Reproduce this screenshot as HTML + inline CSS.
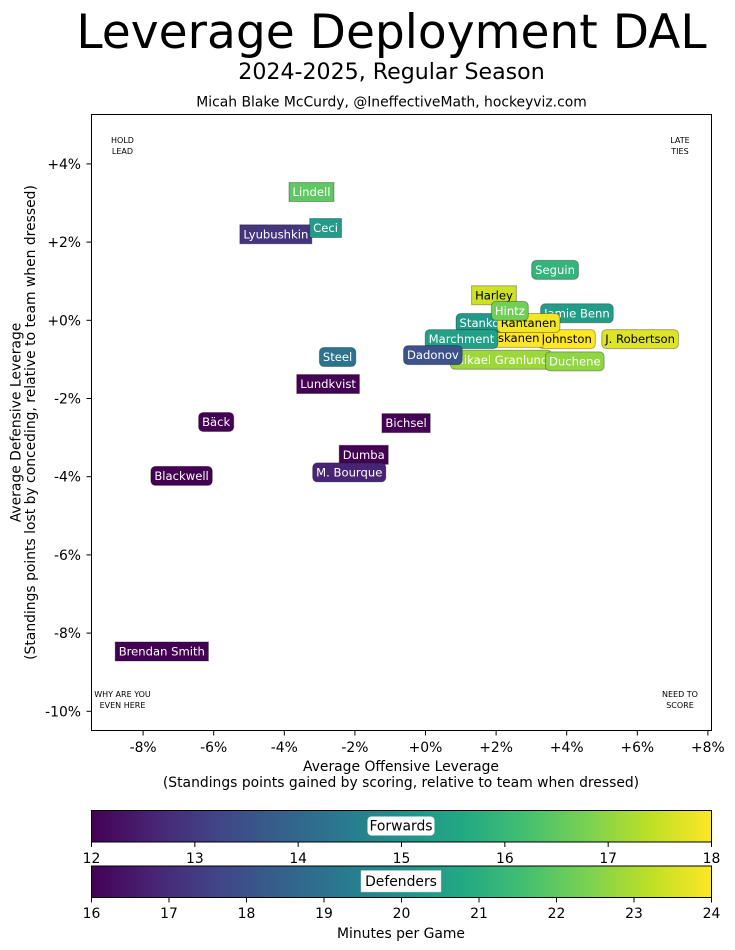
<!DOCTYPE html>
<html lang="en">
<head>
<meta charset="utf-8">
<title>Leverage Deployment DAL</title>
<style>
html,body{margin:0;padding:0;background:#fff;width:735px;height:950px;overflow:hidden}
svg{display:block}
text{font-family:"DejaVu Sans","Liberation Sans",sans-serif;fill:#000}
</style>
</head>
<body>
<svg id="chart" xmlns="http://www.w3.org/2000/svg" width="735" height="950" viewBox="0 0 735 950">
  <defs>
    <linearGradient id="viridis-gradient" x1="0" x2="1" y1="0" y2="0"></linearGradient>
  </defs>
  <text x="391.5" y="48" text-anchor="middle" font-size="47.1">Leverage Deployment DAL</text>
  <text x="391.5" y="79" text-anchor="middle" font-size="22.1">2024-2025, Regular Season</text>
  <text x="391.5" y="106.5" text-anchor="middle" font-size="13.9">Micah Blake McCurdy, @IneffectiveMath, hockeyviz.com</text>

  <g id="x-ticks"></g>
  <g id="y-ticks"></g>

  <text text-anchor="middle" font-size="8" x="122.5" y="143">HOLD</text>
  <text text-anchor="middle" font-size="8" x="122.5" y="154">LEAD</text>
  <text text-anchor="middle" font-size="8" x="680" y="143">LATE</text>
  <text text-anchor="middle" font-size="8" x="680" y="154">TIES</text>
  <text text-anchor="middle" font-size="8" x="122.5" y="697">WHY ARE YOU</text>
  <text text-anchor="middle" font-size="8" x="122.5" y="708">EVEN HERE</text>
  <text text-anchor="middle" font-size="8" x="680" y="697">NEED TO</text>
  <text text-anchor="middle" font-size="8" x="680" y="708">SCORE</text>

  <g id="players"></g>

  <rect x="91.5" y="114.5" width="620" height="616" fill="none" stroke="#000" stroke-width="1"></rect>

  <text x="401" y="771" text-anchor="middle" font-size="13.9">Average Offensive Leverage</text>
  <text x="401" y="787" text-anchor="middle" font-size="13.9">(Standings points gained by scoring, relative to team when dressed)</text>
  <text transform="translate(20.5,422.5) rotate(-90)" text-anchor="middle" font-size="13.9">Average Defensive Leverage</text>
  <text transform="translate(35,422.5) rotate(-90)" text-anchor="middle" font-size="13.9">(Standings points lost by conceding, relative to team when dressed)</text>

  <rect x="91.5" y="810.5" width="620" height="31.5" fill="url(#viridis-gradient)" stroke="#000" stroke-width="1"></rect>
  <g id="forward-ticks"></g>
  <rect x="367.5" y="816.5" width="67" height="19" rx="4" fill="#fff"></rect>
  <text x="401" y="830.5" text-anchor="middle" font-size="13.9">Forwards</text>

  <rect x="91.5" y="866" width="620" height="31.5" fill="url(#viridis-gradient)" stroke="#000" stroke-width="1"></rect>
  <g id="defender-ticks"></g>
  <rect x="361" y="870.5" width="80" height="21.5" fill="#fff" stroke="#ccc" stroke-width="0.5"></rect>
  <text x="401" y="886" text-anchor="middle" font-size="13.9">Defenders</text>
  <text x="401" y="938" text-anchor="middle" font-size="13.9">Minutes per Game</text>
</svg>
<script>
var playerNames = ["Lindell","Lyubushkin","Ceci","Seguin","Johnston","Heiskanen","Stankoven","Jamie Benn","Marchment","Harley","Rantanen","Hintz","J. Robertson","Mikael Granlund","Dadonov","Duchene","Steel","Lundkvist","Bichsel","Dumba","M. Bourque","Bäck","Blackwell","Brendan Smith"];
var offensiveLeverage = [-3.23,-4.24,-2.83,3.67,4.0,2.37,1.83,4.29,1.02,1.94,2.92,2.39,6.08,2.14,0.21,4.23,-2.49,-2.76,-0.55,-1.75,-2.16,-5.93,-6.91,-7.47];
var defensiveLeverage = [3.28,2.2,2.36,1.29,-0.48,-0.45,-0.07,0.18,-0.48,0.64,-0.07,0.24,-0.48,-1.01,-0.89,-1.05,-0.94,-1.63,-2.63,-3.44,-3.89,-2.6,-3.98,-8.47];
var minutesPerGame = [22.0,17.2,20.4,15.9,18.0,24.0,15.2,15.3,15.4,23.4,17.9,16.7,17.7,17.1,13.5,17.0,14.3,16.0,16.0,16.0,12.6,12.0,12.0,16.0];
var playerPositions = ["D","D","D","F","F","D","F","F","F","D","F","F","F","F","F","F","F","D","D","D","F","F","F","D"];

var xTickValues = [-8,-6,-4,-2,0,2,4,6,8];
var yTickValues = [4,2,0,-2,-4,-6,-8,-10];
var forwardTickValues = [12,13,14,15,16,17,18];
var defenderTickValues = [16,17,18,19,20,21,22,23,24];
var viridisStops = ["#440154","#482475","#414487","#355f8d","#2a788e","#21918c","#22a884","#44bf70","#7ad151","#bddf26","#fde725"];

var svgNS = "http://www.w3.org/2000/svg";

function xScale(v) { return 425.5 + 35.3 * v; }
function yScale(v) { return 320.3 - 39.1 * v; }
function forwardScale(v) { return 91.5 + (v - 12) / 6 * 620; }
function defenderScale(v) { return 91.5 + (v - 16) / 8 * 620; }

function hexToRgb(h) {
  return [parseInt(h.substr(1,2),16), parseInt(h.substr(3,2),16), parseInt(h.substr(5,2),16)];
}
function viridis(t) {
  t = Math.max(0, Math.min(1, t));
  var p = t * (viridisStops.length - 1);
  var i = Math.min(Math.floor(p), viridisStops.length - 2);
  var f = p - i;
  var a = hexToRgb(viridisStops[i]);
  var b = hexToRgb(viridisStops[i + 1]);
  return "rgb(" + Math.round(a[0] + (b[0]-a[0])*f) + "," + Math.round(a[1] + (b[1]-a[1])*f) + "," + Math.round(a[2] + (b[2]-a[2])*f) + ")";
}
function formatPercent(v) {
  return (v >= 0 ? "+" : "-") + Math.abs(v) + "%";
}
function make(tag, attrs, parent) {
  var el = document.createElementNS(svgNS, tag);
  for (var k in attrs) { el.setAttribute(k, attrs[k]); }
  parent.appendChild(el);
  return el;
}

var gradient = document.getElementById("viridis-gradient");
viridisStops.forEach(function (c, i) {
  make("stop", { offset: i / (viridisStops.length - 1), "stop-color": c }, gradient);
});

var xTicksGroup = document.getElementById("x-ticks");
xTickValues.forEach(function (v) {
  var px = xScale(v);
  var line = make("line", { x1: px, x2: px, y1: 730.5, y2: 735.5, stroke: "#000", "stroke-width": 1 }, xTicksGroup);
  
  
  var label = make("text", { x: px, y: 752, "text-anchor": "middle", "font-size": 13.9 }, xTicksGroup);
  
  
  label.textContent = formatPercent(v);
});

var yTicksGroup = document.getElementById("y-ticks");
yTickValues.forEach(function (v) {
  var py = yScale(v);
  var line = make("line", { x1: 86.5, x2: 91.5, y1: py, y2: py, stroke: "#000", "stroke-width": 1 }, yTicksGroup);
  
  
  var label = make("text", { x: 81, y: py + 5, "text-anchor": "end", "font-size": 13.9 }, yTicksGroup);
  
  
  label.textContent = formatPercent(v);
});

var forwardTicksGroup = document.getElementById("forward-ticks");
forwardTickValues.forEach(function (v) {
  var px = forwardScale(v);
  var line = make("line", { x1: px, x2: px, y1: 842, y2: 847, stroke: "#000", "stroke-width": 1 }, forwardTicksGroup);
  
  
  var label = make("text", { x: px, y: 863, "text-anchor": "middle", "font-size": 13.9 }, forwardTicksGroup);
  
  
  label.textContent = v;
});

var defenderTicksGroup = document.getElementById("defender-ticks");
defenderTickValues.forEach(function (v) {
  var px = defenderScale(v);
  var line = make("line", { x1: px, x2: px, y1: 897.5, y2: 902.5, stroke: "#000", "stroke-width": 1 }, defenderTicksGroup);
  
  
  var label = make("text", { x: px, y: 918, "text-anchor": "middle", "font-size": 13.9 }, defenderTicksGroup);
  
  
  label.textContent = v;
});

var playersGroup = document.getElementById("players");
playerNames.forEach(function (name, i) {
  var isForward = playerPositions[i] === "F";
  var t = isForward ? (minutesPerGame[i] - 12) / 6 : (minutesPerGame[i] - 16) / 8;
  var px = xScale(offensiveLeverage[i]);
  var py = yScale(defensiveLeverage[i]);
  var g = make("g", {}, playersGroup);
  
  
  var box = make("rect", { fill: viridis(t), stroke: "rgba(0,0,0,0.3)", "stroke-width": 1, rx: isForward ? 4.5 : 0 }, g);
  
  
  var label = make("text", { x: px, y: py + 4, "text-anchor": "middle", "font-size": 11.6 }, g);
  
  
  label.textContent = name;
  label.style.fill = t > 0.88 ? "#000" : "#fff";
  var w = label.getComputedTextLength() + 7;
  box.setAttribute("x", px - w / 2);
  box.setAttribute("y", py - 9.5);
  box.setAttribute("width", w);
  box.setAttribute("height", 19);
});
</script>
</body>
</html>
